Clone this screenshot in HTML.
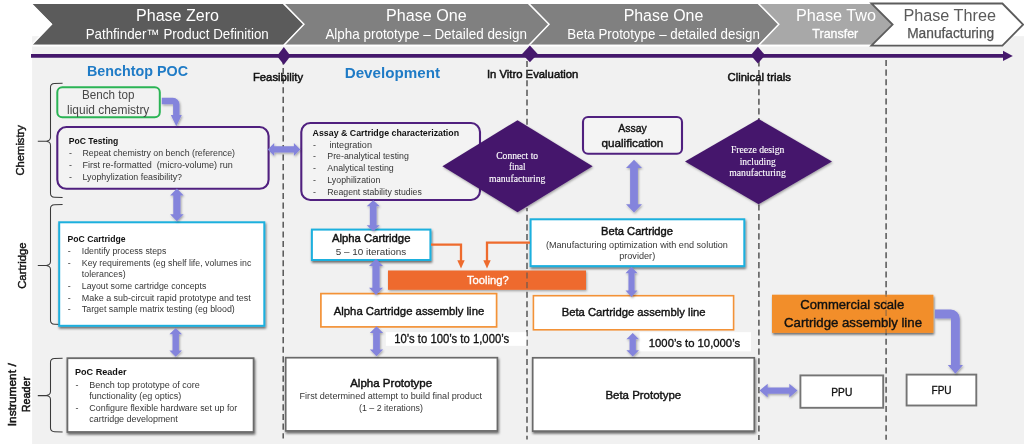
<!DOCTYPE html>
<html lang="en"><head><meta charset="utf-8"><title>Product development phases</title>
<style>html,body{margin:0;padding:0;background:#fff}body{width:1024px;height:444px;overflow:hidden;position:relative;font-family:"Liberation Sans",sans-serif}svg{position:absolute;left:0;top:0;display:block;will-change:transform}text{white-space:pre}</style>
</head><body>
<svg width="1024" height="444" viewBox="0 0 1024 444" font-family="Liberation Sans, sans-serif">
<defs>
<filter id="sh" x="-10%" y="-10%" width="125%" height="135%"><feDropShadow dx="0.8" dy="1.8" stdDeviation="1.25" flood-color="#000" flood-opacity="0.55"/></filter>
<filter id="sh2" x="-30%" y="-30%" width="170%" height="170%"><feDropShadow dx="0.8" dy="1.2" stdDeviation="1.0" flood-color="#000" flood-opacity="0.35"/></filter>
</defs>
<rect x="32.1" y="36.2" width="992" height="408" fill="#f1f1f1"/>
<polygon points="31.8,3.9 283.4,3.9 303.9,24.3 283.4,44.7 31.8,44.7 52.3,24.3" fill="#5b5b5b"/>
<polygon points="283.4,3.9 528.5,3.9 549.0,24.3 528.5,44.7 283.4,44.7 303.9,24.3" fill="#808080"/>
<polygon points="528.5,3.9 758.3,3.9 778.8,24.3 758.3,44.7 528.5,44.7 549.0,24.3" fill="#808080"/>
<polygon points="758.3,3.9 872,3.9 892.5,24.3 872,44.7 758.3,44.7 778.8,24.3" fill="#a8a8a8"/>
<rect x="32.3" y="44.7" width="842" height="1.8" fill="#fff"/>
<polyline points="30.9,3.4 51.4,24.3 30.9,45.7" fill="none" stroke="#fff" stroke-width="1.5"/>
<polyline points="283.4,3.4 303.9,24.3 283.4,45.7" fill="none" stroke="#fff" stroke-width="1.5"/>
<polyline points="528.5,3.4 549.0,24.3 528.5,45.7" fill="none" stroke="#fff" stroke-width="1.5"/>
<polyline points="758.3,3.4 778.8,24.3 758.3,45.7" fill="none" stroke="#fff" stroke-width="1.5"/>
<polygon points="871.4,3.5 1002.4,3.5 1023.1,24.6 1002.4,45.6 871.4,45.6 892.6,24.6" fill="#fff" stroke="#5c5c5c" stroke-width="1.8"/>
<text x="177.5" y="20.5" font-size="16.8" text-anchor="middle" fill="#fff" textLength="83" lengthAdjust="spacingAndGlyphs">Phase Zero</text>
<text x="177.2" y="38.7" font-size="13.9" text-anchor="middle" fill="#fff" textLength="183.1" lengthAdjust="spacingAndGlyphs">Pathfinder™ Product Definition</text>
<text x="426.3" y="20.5" font-size="16.8" text-anchor="middle" fill="#fff" textLength="80.6" lengthAdjust="spacingAndGlyphs">Phase One</text>
<text x="426.2" y="38.7" font-size="13.9" text-anchor="middle" fill="#fff" textLength="201.6" lengthAdjust="spacingAndGlyphs">Alpha prototype – Detailed design</text>
<text x="663.5" y="20.5" font-size="16.8" text-anchor="middle" fill="#fff" textLength="79.7" lengthAdjust="spacingAndGlyphs">Phase One</text>
<text x="663.6" y="38.7" font-size="13.9" text-anchor="middle" fill="#fff" textLength="192.5" lengthAdjust="spacingAndGlyphs">Beta Prototype – detailed design</text>
<text x="836" y="20.5" font-size="16.8" text-anchor="middle" fill="#fff" textLength="80" lengthAdjust="spacingAndGlyphs">Phase Two</text>
<text x="835.3" y="37.7" font-size="13.2" text-anchor="middle" fill="#fff" textLength="45.9" lengthAdjust="spacingAndGlyphs" stroke="#fff" stroke-width="0.3">Transfer</text>
<text x="949.7" y="20.5" font-size="16.8" text-anchor="middle" fill="#5a5a5a" textLength="92.6" lengthAdjust="spacingAndGlyphs">Phase Three</text>
<text x="950.7" y="37.7" font-size="13.8" text-anchor="middle" fill="#555" textLength="87" lengthAdjust="spacingAndGlyphs" stroke="#555" stroke-width="0.25">Manufacturing</text>
<line x1="31" y1="55.9" x2="1004" y2="55.9" stroke="#45186c" stroke-width="3.6"/>
<polygon points="1003,50.7 1012.8,55.9 1003,61.1" fill="#45186c"/>
<line x1="283.2" y1="58.4" x2="283.2" y2="438.5" stroke="#555" stroke-width="1.5" stroke-dasharray="6.1 3.51" stroke-dashoffset="0"/>
<line x1="758.9" y1="60.3" x2="758.9" y2="440" stroke="#555" stroke-width="1.5" stroke-dasharray="6.1 3.51" stroke-dashoffset="0"/>
<polygon points="277.0,55.9 283.8,47.099999999999994 290.6,55.9 283.8,64.7" fill="#45186c"/>
<polygon points="522.1,53.9 529.9,45.5 537.6999999999999,53.9 529.9,62.3" fill="#45186c"/>
<polygon points="750.6999999999999,55.2 757.9,46.800000000000004 765.1,55.2 757.9,63.6" fill="#45186c"/>
<text x="87" y="76" font-size="15.3" font-weight="700" fill="#1f7bc6" textLength="101" lengthAdjust="spacingAndGlyphs">Benchtop POC</text>
<text x="344.7" y="77.8" font-size="15.2" font-weight="700" fill="#1f7bc6" textLength="95.3" lengthAdjust="spacingAndGlyphs">Development</text>
<text x="253" y="80.5" font-size="11.4" fill="#111" textLength="50" lengthAdjust="spacingAndGlyphs" stroke="#111" stroke-width="0.5">Feasibility</text>
<text x="486.9" y="78.4" font-size="11.4" fill="#111" textLength="91.5" lengthAdjust="spacingAndGlyphs" stroke="#111" stroke-width="0.5">In Vitro Evaluation</text>
<text x="727.5" y="80.5" font-size="11.4" fill="#111" textLength="63.5" lengthAdjust="spacingAndGlyphs" stroke="#111" stroke-width="0.5">Clinical trials</text>
<text x="24.5" y="150.3" font-size="11.5" text-anchor="middle" fill="#111" textLength="50.5" lengthAdjust="spacingAndGlyphs" stroke="#111" stroke-width="0.4" transform="rotate(-90 24.5 150.3)">Chemistry</text>
<text x="26.5" y="265.6" font-size="11.5" text-anchor="middle" fill="#111" textLength="46.3" lengthAdjust="spacingAndGlyphs" stroke="#111" stroke-width="0.4" transform="rotate(-90 26.5 265.6)">Cartridge</text>
<text x="15.9" y="394.8" font-size="11.8" text-anchor="middle" fill="#111" textLength="63" lengthAdjust="spacingAndGlyphs" stroke="#111" stroke-width="0.5" transform="rotate(-90 15.9 394.8)">Instrument /</text>
<text x="30.4" y="394.6" font-size="11.8" text-anchor="middle" fill="#111" textLength="35.3" lengthAdjust="spacingAndGlyphs" stroke="#111" stroke-width="0.5" transform="rotate(-90 30.4 394.6)">Reader</text>
<path d="M62.6,83.2 L54.5,83.5 Q50.5,83.7 50.5,87.2 L50.5,137.3 Q50.5,140.8 46.3,141.3 L37.8,141.3 L46.3,141.3 Q50.5,141.8 50.5,145.3 L50.5,193.6 Q50.5,197.1 54.5,197.29999999999998 L62.6,197.6" fill="none" stroke="#3a3a3a" stroke-width="1.05"/>
<path d="M62.6,204.5 L54.5,204.8 Q50.5,205.0 50.5,208.5 L50.5,261.5 Q50.5,265.0 46.3,265.5 L37.8,265.5 L46.3,265.5 Q50.5,266.0 50.5,269.5 L50.5,320.6 Q50.5,324.1 54.5,324.3 L62.6,324.6" fill="none" stroke="#3a3a3a" stroke-width="1.05"/>
<path d="M62.6,358.2 L54.5,358.5 Q50.5,358.7 50.5,362.2 L50.5,391.6 Q50.5,395.1 46.3,395.6 L37.8,395.6 L46.3,395.6 Q50.5,396.1 50.5,399.6 L50.5,428 Q50.5,431.5 54.5,431.7 L62.6,432" fill="none" stroke="#3a3a3a" stroke-width="1.05"/>
<rect x="57.3" y="87.2" width="102.5" height="30.0" rx="5" fill="#f2f2f2" stroke="#2bb455" stroke-width="2"/>
<rect x="57.3" y="127" width="211.3" height="61.8" rx="9" fill="#f3f3f3" stroke="#50207f" stroke-width="2.1"/>
<rect x="301.3" y="123" width="178.7" height="77" rx="9" fill="#f3f3f3" stroke="#50207f" stroke-width="2.1"/>
<rect x="583" y="117" width="99" height="36.7" rx="5" fill="#f4f4f4" stroke="#50207f" stroke-width="2.1"/>
<line x1="527" y1="61" x2="527" y2="125" stroke="#555" stroke-width="1.5" stroke-dasharray="6.1 3.51" stroke-dashoffset="0.0"/>
<polygon points="442.4,166.2 517.5,120.2 592.6,166.2 517.5,212.2" fill="#45186c" filter="url(#sh2)"/>
<polygon points="685,161.5 758.6,118.9 832,161.5 758.6,204.2" fill="#45186c" filter="url(#sh2)"/>
<rect x="388" y="270.5" width="198" height="19.3" fill="#ee6b2d" filter="url(#sh2)"/>
<line x1="527" y1="208" x2="527" y2="270.3" stroke="#555" stroke-width="1.5" stroke-dasharray="6.1 3.51" stroke-dashoffset="2.85"/>
<line x1="527" y1="270.3" x2="527" y2="289.8" stroke="#555" stroke-width="1.5" stroke-dasharray="6.1 3.51" stroke-dashoffset="7.49" opacity="0.7"/>
<line x1="527" y1="289.8" x2="527" y2="439.6" stroke="#555" stroke-width="1.5" stroke-dasharray="6.1 3.51" stroke-dashoffset="7.77"/>
<rect x="59.2" y="222.3" width="205.1" height="103.5" rx="0" fill="#fff" stroke="#1fb0de" stroke-width="2" filter="url(#sh)"/>
<rect x="67.4" y="358.2" width="186.2" height="73.8" rx="0" fill="#fff" stroke="#6a6a6a" stroke-width="1.8" filter="url(#sh)"/>
<rect x="311.9" y="229.6" width="118.5" height="30.4" rx="0" fill="#fff" stroke="#1fb0de" stroke-width="2" filter="url(#sh)"/>
<rect x="320.9" y="293.6" width="175.7" height="33.3" rx="0" fill="#fff" stroke="#f39237" stroke-width="1.7"/>
<rect x="285.7" y="357.7" width="211.7" height="73.2" rx="0" fill="#fff" stroke="#6a6a6a" stroke-width="1.7" filter="url(#sh)"/>
<rect x="530.6" y="219.3" width="213.7" height="46.8" rx="0" fill="#fff" stroke="#1fb0de" stroke-width="2" filter="url(#sh)"/>
<rect x="533.4" y="295.7" width="200.2" height="34.1" rx="0" fill="#fff" stroke="#f39237" stroke-width="1.6"/>
<rect x="532.7" y="357.8" width="221.6" height="73.3" rx="0" fill="#fff" stroke="#6a6a6a" stroke-width="1.7" filter="url(#sh)"/>
<rect x="800.4" y="375.4" width="82.8" height="32.4" rx="0" fill="#fff" stroke="#747474" stroke-width="1.9"/>
<rect x="906.6" y="374.6" width="69.7" height="30.9" rx="0" fill="#fff" stroke="#747474" stroke-width="1.9"/>
<rect x="772" y="294.7" width="161.4" height="38.2" fill="#f28e2c" filter="url(#sh)"/>
<line x1="886.1" y1="60" x2="886.1" y2="294.7" stroke="#555" stroke-width="1.5" stroke-dasharray="6.1 3.51" stroke-dashoffset="0.0"/>
<line x1="886.1" y1="294.7" x2="886.1" y2="332.9" stroke="#555" stroke-width="1.5" stroke-dasharray="6.1 3.51" stroke-dashoffset="4.06" opacity="0.5"/>
<line x1="886.1" y1="332.9" x2="886.1" y2="439.8" stroke="#555" stroke-width="1.5" stroke-dasharray="6.1 3.51" stroke-dashoffset="3.82"/>
<rect x="385.8" y="332.2" width="140.6" height="13.6" fill="#fff"/>
<rect x="639.6" y="332.2" width="111.4" height="19.2" fill="#fff"/>
<polygon points="176.9,188.6 183.70000000000002,195.6 180.5,195.6 180.5,214.2 183.70000000000002,214.2 176.9,221.2 170.1,214.2 173.3,214.2 173.3,195.6 170.1,195.6" fill="#8484dc" filter="url(#sh2)"/>
<polygon points="175.7,328.0 182.0,334.3 178.89999999999998,334.3 178.89999999999998,350.5 182.0,350.5 175.7,356.8 169.39999999999998,350.5 172.5,350.5 172.5,334.3 169.39999999999998,334.3" fill="#8484dc" filter="url(#sh2)"/>
<polygon points="373.2,200.2 379.7,206.29999999999998 376.55,206.29999999999998 376.55,225.20000000000002 379.7,225.20000000000002 373.2,231.3 366.7,225.20000000000002 369.84999999999997,225.20000000000002 369.84999999999997,206.29999999999998 366.7,206.29999999999998" fill="#8484dc" filter="url(#sh2)"/>
<polygon points="376.0,258.8 383.0,265.90000000000003 379.6,265.90000000000003 379.6,287.79999999999995 383.0,287.79999999999995 376.0,294.9 369.0,287.79999999999995 372.4,287.79999999999995 372.4,265.90000000000003 369.0,265.90000000000003" fill="#8484dc" filter="url(#sh2)"/>
<polygon points="376.5,326.2 383.2,332.9 379.85,332.9 379.85,349.5 383.2,349.5 376.5,356.2 369.8,349.5 373.15,349.5 373.15,332.9 369.8,332.9" fill="#8484dc" filter="url(#sh2)"/>
<polygon points="634.0,159.7 642.0,168.0 637.9,168.0 637.9,204.29999999999998 642.0,204.29999999999998 634.0,212.6 626.0,204.29999999999998 630.1,204.29999999999998 630.1,168.0 626.0,168.0" fill="#8484dc" filter="url(#sh2)"/>
<polygon points="631.5,266.8 637.5,273.3 634.55,273.3 634.55,290.5 637.5,290.5 631.5,297.0 625.5,290.5 628.45,290.5 628.45,273.3 625.5,273.3" fill="#8484dc" filter="url(#sh2)"/>
<polygon points="632.7,333.1 639.0,339.3 635.85,339.3 635.85,350.2 639.0,350.2 632.7,356.4 626.4000000000001,350.2 629.5500000000001,350.2 629.5500000000001,339.3 626.4000000000001,339.3" fill="#8484dc" filter="url(#sh2)"/>
<polygon points="267.8,149.4 274.2,142.9 274.2,146.35 293.90000000000003,146.35 293.90000000000003,142.9 300.3,149.4 293.90000000000003,155.9 293.90000000000003,152.45000000000002 274.2,152.45000000000002 274.2,155.9" fill="#8484dc" filter="url(#sh2)"/>
<polygon points="759.5,390.6 767.7,383.8 767.7,387.40000000000003 789.3,387.40000000000003 789.3,383.8 797.5,390.6 789.3,397.40000000000003 789.3,393.8 767.7,393.8 767.7,397.40000000000003" fill="#8484dc" filter="url(#sh2)"/>
<path d="M161.8,97.8 L172.9,97.8 A6.6,6.6 0 0 1 179.5,104.4 L179.5,115.0 L181.8,115.0 L176.3,126.2 L170.8,115.0 L173.10000000000002,115.0 L173.10000000000002,104.4 A0.19999999999999973,0.19999999999999973 0 0 0 172.9,104.2 L161.8,104.2 Z" fill="#8484dc" filter="url(#sh2)"/>
<path d="M935,309.6 L950.8,309.6 A9.0,9.0 0 0 1 959.8,318.6 L959.8,365.0 L963.0,365.0 L955.4,373.8 L947.8,365.0 L951.0,365.0 L951.0,318.6 A0.1999999999999993,0.1999999999999993 0 0 0 950.8,318.4 L935,318.4 Z" fill="#8484dc" filter="url(#sh2)"/>
<path d="M431,244.6 H461 V262" fill="none" stroke="#ee6b2d" stroke-width="2.3"/>
<polygon points="457.3,260.3 464.7,260.3 461,268.6" fill="#ee6b2d"/>
<path d="M530,242.6 H487 V262" fill="none" stroke="#ee6b2d" stroke-width="2.3"/>
<polygon points="483.3,260.3 490.7,260.3 487,268.6" fill="#ee6b2d"/>
<text x="108.3" y="99" font-size="12.2" text-anchor="middle" fill="#484848" textLength="52.5" lengthAdjust="spacingAndGlyphs">Bench top</text>
<text x="108.2" y="114" font-size="12.2" text-anchor="middle" fill="#484848" textLength="82.3" lengthAdjust="spacingAndGlyphs">liquid chemistry</text>
<text x="68.8" y="144" font-size="9.6" font-weight="700" fill="#111" textLength="49.5" lengthAdjust="spacingAndGlyphs">PoC Testing</text>
<text x="69" y="156" font-size="8.9" fill="#363636">-</text>
<text x="82.5" y="156" font-size="8.9" fill="#363636" textLength="152.5" lengthAdjust="spacingAndGlyphs">Repeat chemistry on bench (reference)</text>
<text x="69" y="167.9" font-size="8.9" fill="#363636">-</text>
<text x="82.5" y="167.9" font-size="8.9" fill="#363636" textLength="150.2" lengthAdjust="spacingAndGlyphs">First re-formatted  (micro-volume) run</text>
<text x="69" y="179.8" font-size="8.9" fill="#363636">-</text>
<text x="82.5" y="179.8" font-size="8.9" fill="#363636" textLength="99.5" lengthAdjust="spacingAndGlyphs">Lyophylization feasibility?</text>
<text x="67.6" y="242" font-size="9.6" font-weight="700" fill="#111" textLength="58" lengthAdjust="spacingAndGlyphs">PoC Cartridge</text>
<text x="67.8" y="253.8" font-size="8.9" fill="#363636">-</text>
<text x="81.8" y="253.8" font-size="8.9" fill="#363636" textLength="84.5" lengthAdjust="spacingAndGlyphs">Identify process steps</text>
<text x="67.8" y="265.5" font-size="8.9" fill="#363636">-</text>
<text x="81.8" y="265.5" font-size="8.9" fill="#363636" textLength="169.5" lengthAdjust="spacingAndGlyphs">Key requirements (eg shelf life, volumes inc</text>
<text x="81.8" y="277.2" font-size="8.9" fill="#363636" textLength="43.8" lengthAdjust="spacingAndGlyphs">tolerances)</text>
<text x="67.8" y="288.9" font-size="8.9" fill="#363636">-</text>
<text x="81.8" y="288.9" font-size="8.9" fill="#363636" textLength="124.5" lengthAdjust="spacingAndGlyphs">Layout some cartridge concepts</text>
<text x="67.8" y="300.6" font-size="8.9" fill="#363636">-</text>
<text x="81.8" y="300.6" font-size="8.9" fill="#363636" textLength="169" lengthAdjust="spacingAndGlyphs">Make a sub-circuit rapid prototype and test</text>
<text x="67.8" y="312.3" font-size="8.9" fill="#363636">-</text>
<text x="81.8" y="312.3" font-size="8.9" fill="#363636" textLength="153" lengthAdjust="spacingAndGlyphs">Target sample matrix testing (eg blood)</text>
<text x="75" y="374.5" font-size="9.8" font-weight="700" fill="#111" textLength="51.5" lengthAdjust="spacingAndGlyphs">PoC Reader</text>
<text x="75.5" y="387.5" font-size="8.9" fill="#363636">-</text>
<text x="89.3" y="387.5" font-size="8.9" fill="#363636" textLength="110.5" lengthAdjust="spacingAndGlyphs">Bench top prototype of core</text>
<text x="89.3" y="399.0" font-size="8.9" fill="#363636" textLength="92" lengthAdjust="spacingAndGlyphs">functionality (eg optics)</text>
<text x="75.5" y="410.5" font-size="8.9" fill="#363636">-</text>
<text x="89.3" y="410.5" font-size="8.9" fill="#363636" textLength="148" lengthAdjust="spacingAndGlyphs">Configure flexible hardware set up for</text>
<text x="89.3" y="422.0" font-size="8.9" fill="#363636" textLength="88.5" lengthAdjust="spacingAndGlyphs">cartridge development</text>
<text x="312.6" y="135.6" font-size="9.6" font-weight="700" fill="#111" textLength="146.5" lengthAdjust="spacingAndGlyphs">Assay &amp; Cartridge characterization</text>
<text x="313" y="147.6" font-size="8.9" fill="#363636">-</text>
<text x="329.5" y="147.6" font-size="8.9" fill="#363636" textLength="42.5" lengthAdjust="spacingAndGlyphs">integration</text>
<text x="313" y="159.35" font-size="8.9" fill="#363636">-</text>
<text x="327.3" y="159.35" font-size="8.9" fill="#363636" textLength="81.5" lengthAdjust="spacingAndGlyphs">Pre-analytical testing</text>
<text x="313" y="171.1" font-size="8.9" fill="#363636">-</text>
<text x="327.3" y="171.1" font-size="8.9" fill="#363636" textLength="66.5" lengthAdjust="spacingAndGlyphs">Analytical testing</text>
<text x="313" y="182.85" font-size="8.9" fill="#363636">-</text>
<text x="327.3" y="182.85" font-size="8.9" fill="#363636" textLength="53" lengthAdjust="spacingAndGlyphs">Lyophilization</text>
<text x="313" y="194.6" font-size="8.9" fill="#363636">-</text>
<text x="327.3" y="194.6" font-size="8.9" fill="#363636" textLength="94.5" lengthAdjust="spacingAndGlyphs">Reagent stability studies</text>
<text x="517.2" y="158.5" font-size="9.7" text-anchor="middle" fill="#fff" textLength="42" lengthAdjust="spacingAndGlyphs" font-family="Liberation Serif, serif" stroke="#fff" stroke-width="0.12">Connect to</text>
<text x="517.3" y="170.3" font-size="9.7" text-anchor="middle" fill="#fff" textLength="16.5" lengthAdjust="spacingAndGlyphs" font-family="Liberation Serif, serif" stroke="#fff" stroke-width="0.12">final</text>
<text x="517.2" y="181.7" font-size="9.7" text-anchor="middle" fill="#fff" textLength="56.5" lengthAdjust="spacingAndGlyphs" font-family="Liberation Serif, serif" stroke="#fff" stroke-width="0.12">manufacturing</text>
<text x="757.7" y="153.1" font-size="9.7" text-anchor="middle" fill="#fff" textLength="53.5" lengthAdjust="spacingAndGlyphs" font-family="Liberation Serif, serif" stroke="#fff" stroke-width="0.12">Freeze design</text>
<text x="757.7" y="164.5" font-size="9.7" text-anchor="middle" fill="#fff" textLength="36" lengthAdjust="spacingAndGlyphs" font-family="Liberation Serif, serif" stroke="#fff" stroke-width="0.12">including</text>
<text x="757.5" y="176.1" font-size="9.7" text-anchor="middle" fill="#fff" textLength="56.5" lengthAdjust="spacingAndGlyphs" font-family="Liberation Serif, serif" stroke="#fff" stroke-width="0.12">manufacturing</text>
<text x="632.6" y="131.5" font-size="11.7" text-anchor="middle" fill="#111" textLength="28.5" lengthAdjust="spacingAndGlyphs" stroke="#111" stroke-width="0.4">Assay</text>
<text x="632.4" y="147.2" font-size="11.7" text-anchor="middle" fill="#111" textLength="62" lengthAdjust="spacingAndGlyphs" stroke="#111" stroke-width="0.4">qualification</text>
<text x="371.2" y="242" font-size="11.6" text-anchor="middle" fill="#111" textLength="78.5" lengthAdjust="spacingAndGlyphs" stroke="#111" stroke-width="0.45">Alpha Cartridge</text>
<text x="371" y="255" font-size="9" text-anchor="middle" fill="#363636" textLength="70.5" lengthAdjust="spacingAndGlyphs">5 – 10 iterations</text>
<text x="487.9" y="283.9" font-size="11.4" text-anchor="middle" fill="#fff" textLength="41.8" lengthAdjust="spacingAndGlyphs" stroke="#fff" stroke-width="0.35">Tooling?</text>
<text x="409" y="314.5" font-size="11.5" text-anchor="middle" fill="#111" textLength="150.5" lengthAdjust="spacingAndGlyphs" stroke="#111" stroke-width="0.4">Alpha Cartridge assembly line</text>
<text x="394.2" y="343.2" font-size="12.2" fill="#111" textLength="115" lengthAdjust="spacingAndGlyphs" stroke="#111" stroke-width="0.3">10’s to 100’s to 1,000’s</text>
<text x="391.2" y="387.3" font-size="11.6" text-anchor="middle" fill="#111" textLength="82" lengthAdjust="spacingAndGlyphs" stroke="#111" stroke-width="0.45">Alpha Prototype</text>
<text x="390.8" y="399.3" font-size="9.1" text-anchor="middle" fill="#363636" textLength="182.5" lengthAdjust="spacingAndGlyphs">First determined attempt to build final product</text>
<text x="391" y="410.8" font-size="9.1" text-anchor="middle" fill="#363636" textLength="64" lengthAdjust="spacingAndGlyphs">(1 – 2 iterations)</text>
<text x="637" y="234.5" font-size="11.6" text-anchor="middle" fill="#111" textLength="72" lengthAdjust="spacingAndGlyphs" stroke="#111" stroke-width="0.45">Beta Cartridge</text>
<text x="636.9" y="247.5" font-size="9.1" text-anchor="middle" fill="#363636" textLength="182" lengthAdjust="spacingAndGlyphs">(Manufacturing optimization with end solution</text>
<text x="637.2" y="258.8" font-size="9.1" text-anchor="middle" fill="#363636" textLength="36" lengthAdjust="spacingAndGlyphs">provider)</text>
<text x="633.6" y="316" font-size="11.5" text-anchor="middle" fill="#111" textLength="143.8" lengthAdjust="spacingAndGlyphs" stroke="#111" stroke-width="0.4">Beta Cartridge assembly line</text>
<text x="648.8" y="346.6" font-size="11.8" fill="#111" textLength="91.3" lengthAdjust="spacingAndGlyphs" stroke="#111" stroke-width="0.35">1000’s to 10,000’s</text>
<text x="643.3" y="398.6" font-size="11.6" text-anchor="middle" fill="#111" textLength="75.8" lengthAdjust="spacingAndGlyphs" stroke="#111" stroke-width="0.4">Beta Prototype</text>
<text x="852.3" y="309.4" font-size="13.5" text-anchor="middle" fill="#111" textLength="104" lengthAdjust="spacingAndGlyphs" stroke="#111" stroke-width="0.4">Commercial scale</text>
<text x="853" y="327.3" font-size="13.5" text-anchor="middle" fill="#111" textLength="138" lengthAdjust="spacingAndGlyphs" stroke="#111" stroke-width="0.4">Cartridge assembly line</text>
<text x="841.8" y="395.5" font-size="11" text-anchor="middle" fill="#111" textLength="21" lengthAdjust="spacingAndGlyphs" stroke="#111" stroke-width="0.35">PPU</text>
<text x="941.6" y="394" font-size="11" text-anchor="middle" fill="#111" textLength="20" lengthAdjust="spacingAndGlyphs" stroke="#111" stroke-width="0.35">FPU</text>
</svg></body></html>
